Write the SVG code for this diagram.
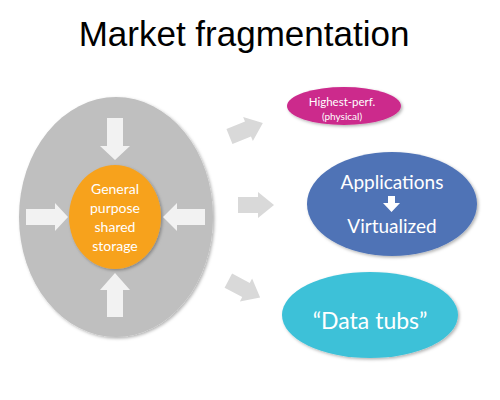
<svg xmlns="http://www.w3.org/2000/svg" width="500" height="400" viewBox="0 0 500 400">
<defs>
<filter id="sh" x="-20%" y="-20%" width="140%" height="140%">
<feDropShadow dx="1.5" dy="1.5" stdDeviation="1.5" flood-color="#000" flood-opacity="0.3"/>
</filter>
</defs>
<style>
.lbl{font-family:Lato,"Open Sans","Liberation Sans",sans-serif;fill:#fff;text-anchor:middle}
.inarrow{fill:#f2f2f2}
.outarrow{fill:#d9d9d9}
</style>
<rect width="500" height="400" fill="#fff"/>
<text x="244" y="46" font-family="'Liberation Sans',Arial,sans-serif" font-size="35" fill="#000" text-anchor="middle">Market fragmentation</text>

<g id="outer">
<ellipse cx="116" cy="217" rx="97" ry="120" fill="#bfbfbf" filter="url(#sh)"/>
</g>
<g id="core">
<ellipse cx="115" cy="217" rx="46" ry="52" fill="#f7a21c" filter="url(#sh)"/>
<text class="lbl" font-size="14"><tspan x="115" y="194">General</tspan><tspan x="115" y="213">purpose</tspan><tspan x="115" y="232">shared</tspan><tspan x="115" y="251">storage</tspan></text>
</g>

<g id="inner-arrows">
<polygon class="inarrow" points="107,118 123,118 123,146 130,146 115,160 100,146 107,146"/>
<polygon class="inarrow" points="107,317 123,317 123,290 130,290 115,273 100,290 107,290"/>
<polygon class="inarrow" points="26,209 55,209 55,203 68,217 55,231 55,225 26,225"/>
<polygon class="inarrow" points="205,209 177,209 177,203 163,217 177,231 177,225 205,225"/>
</g>

<g id="connectors">
<polygon class="outarrow" points="-20,-8 0,-8 0,-13 16,0 0,13 0,8 -20,8" transform="translate(248,129) rotate(-22)"/>
<polygon class="outarrow" points="-20,-8 0,-8 0,-13 16,0 0,13 0,8 -20,8" transform="translate(258,205)"/>
<polygon class="outarrow" points="-20,-8 0,-8 0,-13 16,0 0,13 0,8 -20,8" transform="translate(246,290) rotate(28)"/>
</g>

<g id="highest">
<ellipse cx="344" cy="106" rx="57" ry="19" fill="#cc2a8c" filter="url(#sh)"/>
<text class="lbl" x="342" y="105.5" font-size="11.5">Highest-perf.</text>
<text class="lbl" x="342" y="120" font-size="10">(physical)</text>
</g>

<g id="applications">
<ellipse cx="392" cy="204" rx="85" ry="52" fill="#4f73b6" filter="url(#sh)"/>
<text class="lbl" x="392" y="189" font-size="19">Applications</text>
<polygon fill="#fff" points="388,196 395,196 395,203 400,203 391.5,212 383,203 388,203"/>
<text class="lbl" x="392" y="233" font-size="19">Virtualized</text>
</g>

<g id="datatubs">
<ellipse cx="370" cy="315" rx="88" ry="43" fill="#3ec1d8" filter="url(#sh)"/>
<text class="lbl" x="370" y="329" font-size="23">“Data tubs”</text>
</g>
</svg>
